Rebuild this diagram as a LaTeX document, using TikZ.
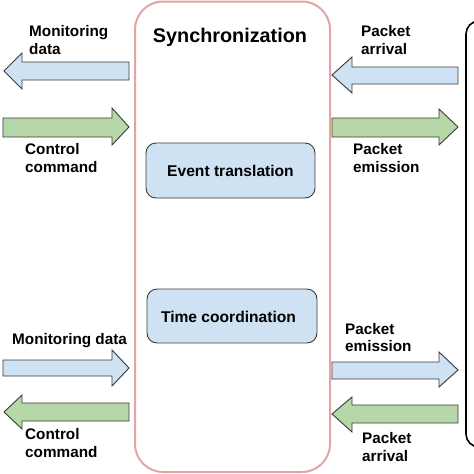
\documentclass[tikz,border=0pt]{standalone}
\usepackage{fontspec}
\setmainfont{Liberation Sans}
\definecolor{bluefill}{HTML}{CFE2F3}
\definecolor{greenfill}{HTML}{B6D7A8}
\definecolor{pinkline}{HTML}{E6A3A3}
\definecolor{edge}{HTML}{3A3A3A}
\begin{document}
\begin{tikzpicture}[x=1pt,y=-1pt,
  bluearrow/.style={draw=edge,fill=bluefill,line width=0.9pt,line join=miter},
  greenarrow/.style={draw=edge,fill=greenfill,line width=0.9pt,line join=miter},
  lbl/.style={font=\bfseries\fontsize{15.3}{17.5}\selectfont,align=left,inner sep=0pt,anchor=north west},
  funcbox/.style={draw=edge,fill=bluefill,line width=0.9pt,rounded corners=10pt},
  functext/.style={font=\bfseries\fontsize{15.6}{18}\selectfont}
]
\useasboundingbox (0,0) rectangle (474,474);
% synchronization container
\draw[pinkline,line width=2pt,rounded corners=28pt] (135,1.5) rectangle (330,472);
\node[font=\bfseries\fontsize{19.8}{22}\selectfont] (title) at (230,37) {Synchronization};
% right black container
\begin{scope}
\clip (0,0) rectangle (474,474);
\draw[black,line width=1.6pt,rounded corners=13pt] (466,21) rectangle (500,447);
\end{scope}
% function boxes
\draw[funcbox] (146,143) rectangle (315,198);
\node[functext] (evt) at (230.5,171) {Event translation};
\draw[funcbox] (147,289) rectangle (317,343);
\node[functext,anchor=west] (time) at (157.5,317) {Time coordination};
% left top arrows
\draw[bluearrow] (4,71)--(22,53)--(22,62)--(129,62)--(129,80)--(22,80)--(22,89)--cycle;
\node[lbl] (mon1) at (29,25.5) {Monitoring\\data};
\draw[greenarrow] (3,118)--(112,118)--(112,108)--(129,127)--(112,145)--(112,137)--(3,137)--cycle;
\node[lbl] (ctl1) at (25,143.5) {Control\\command};
% left bottom arrows
\node[lbl] (mon2) at (12,333) {Monitoring data};
\draw[bluearrow] (3,360)--(112,360)--(112,350)--(129,368)--(112,386)--(112,376)--(3,376)--cycle;
\draw[greenarrow] (4,412)--(22,395)--(22,403)--(129,403)--(129,421)--(22,421)--(22,429)--cycle;
\node[lbl] (ctl2) at (25,428.5) {Control\\command};
% right top arrows
\node[lbl] (arr1) at (361,25.5) {Packet\\arrival};
\draw[bluearrow] (332,75)--(352,57)--(352,67)--(458,67)--(458,84)--(352,84)--(352,93)--cycle;
\draw[greenarrow] (332,118)--(439,118)--(439,109)--(458,127)--(439,145)--(439,137)--(332,137)--cycle;
\node[lbl] (emi1) at (353,143.5) {Packet\\emission};
% right bottom arrows
\node[lbl] (emi2) at (345,323) {Packet\\emission};
\draw[bluearrow] (332,362)--(439,362)--(439,352)--(458,370)--(439,387)--(439,379)--(332,379)--cycle;
\draw[greenarrow] (332,414)--(352,397)--(352,405)--(458,405)--(458,423)--(352,423)--(352,432)--cycle;
\node[lbl] (arr2) at (362,432.5) {Packet\\arrival};
\end{tikzpicture}
\end{document}
